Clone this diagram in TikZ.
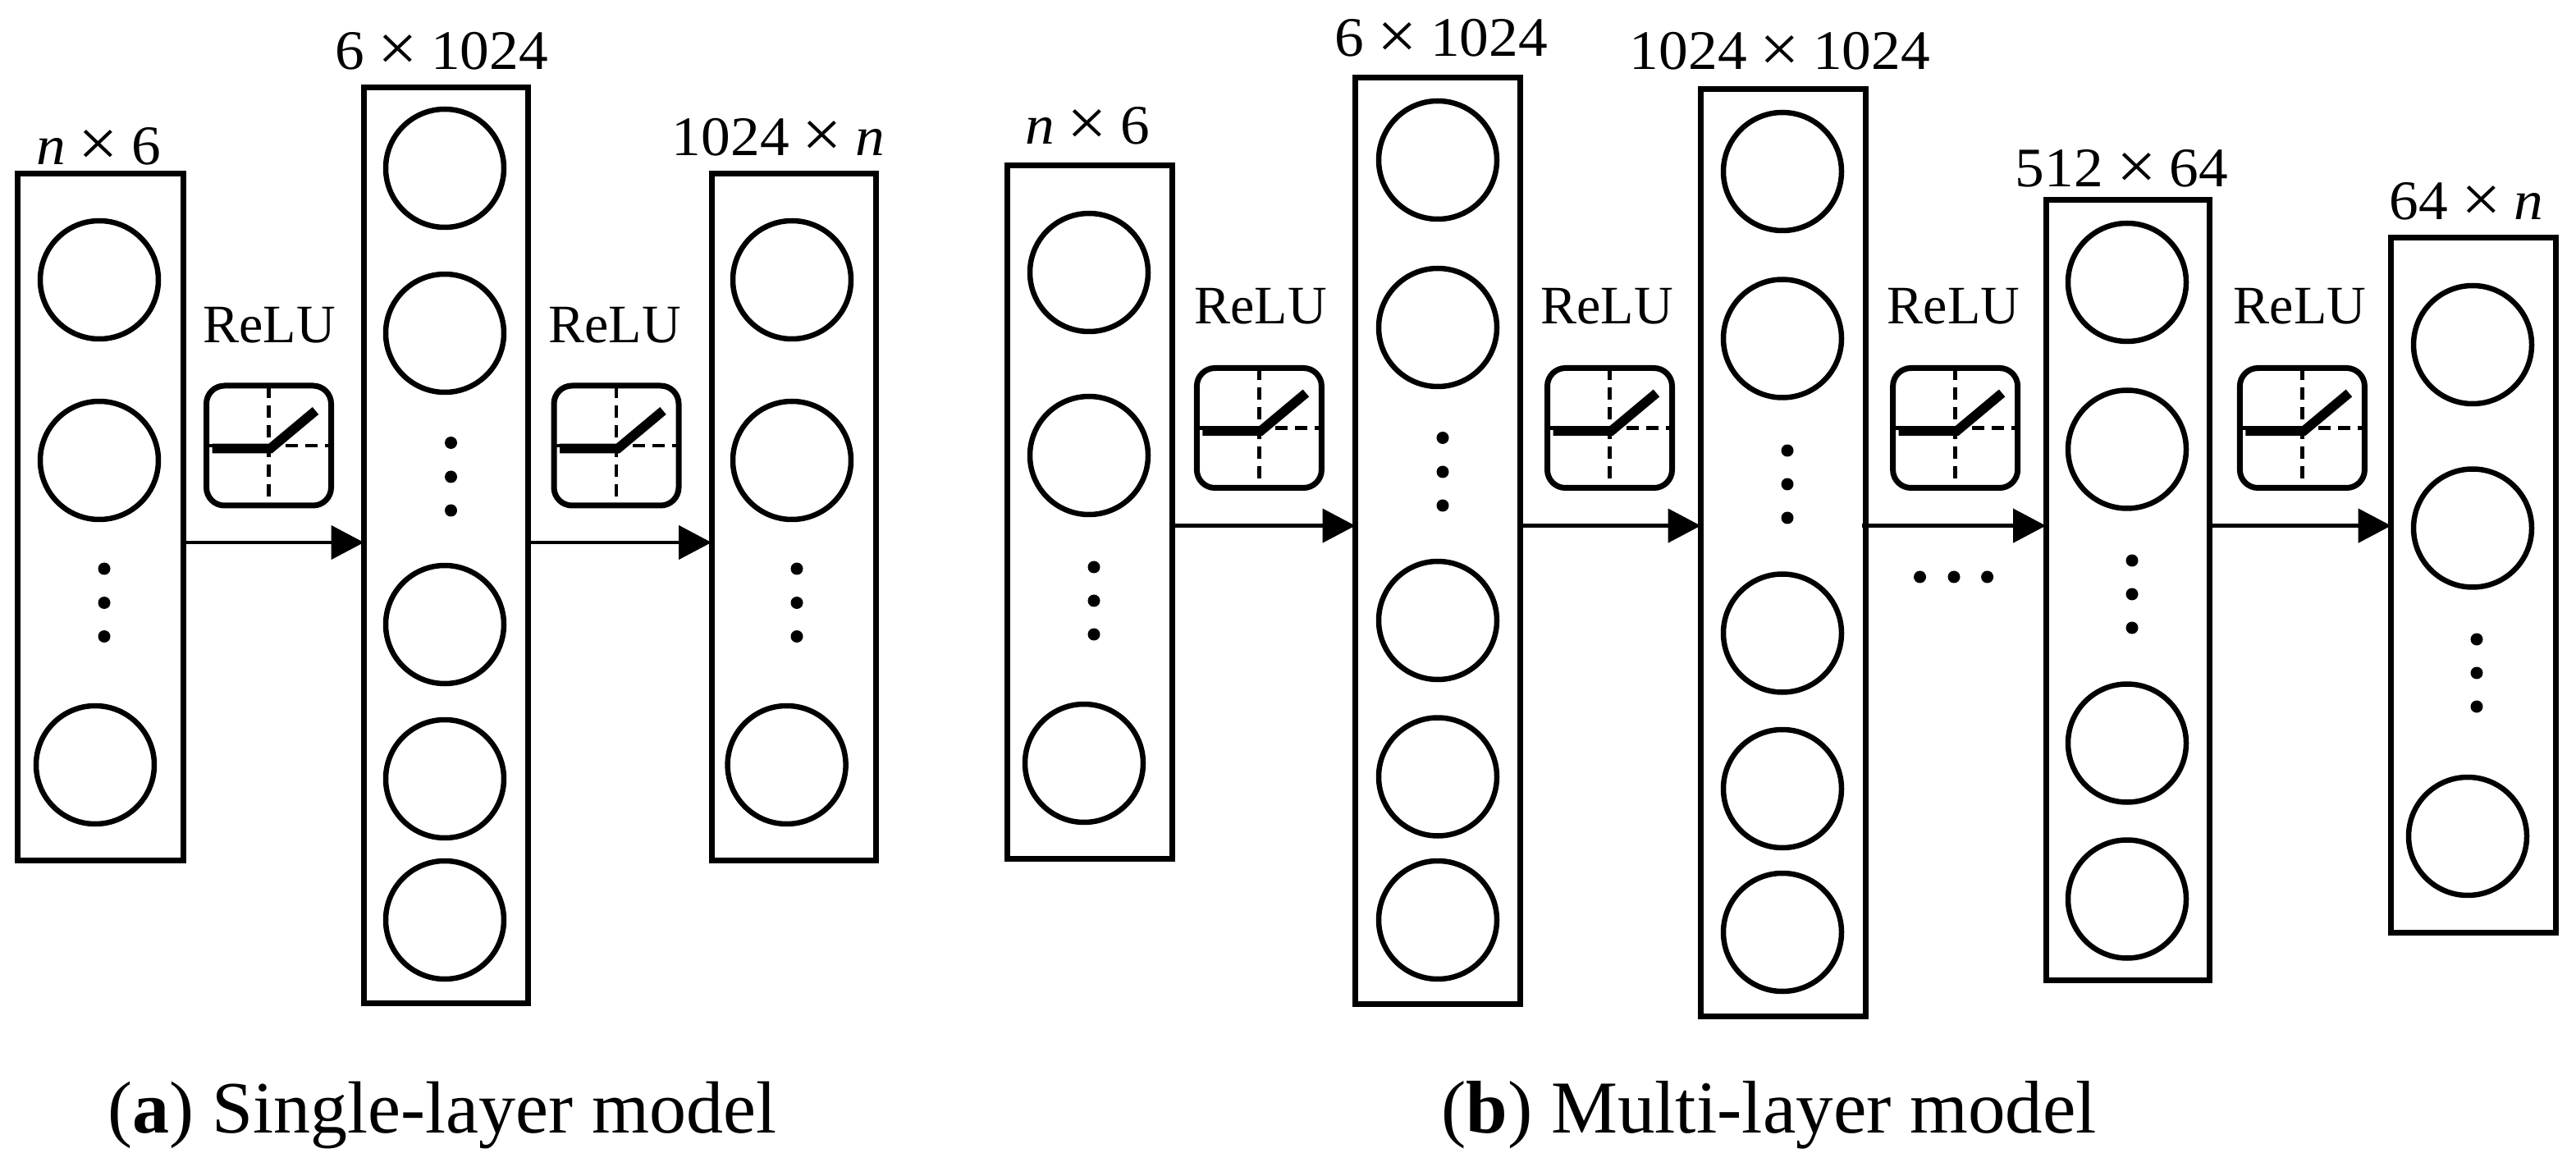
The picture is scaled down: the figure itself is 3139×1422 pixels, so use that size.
\documentclass[tikz,border=0pt]{standalone}
\usepackage{fontspec}
\setmainfont{Liberation Serif}
\newfontfamily\dimfont[FakeStretch=1.05]{Liberation Serif}
\usetikzlibrary{arrows.meta}
\newcommand{\bigtimes}{\raisebox{-1.2pt}{\fontsize{41}{40}\selectfont ×}}
\tikzset{
  layer/.style={draw=black,line width=3.5pt,rectangle,inner sep=0pt,outer sep=0pt,fill=white},
  neuron/.style={draw=black,line width=3.25pt,circle,minimum size=72pt,inner sep=0pt,outer sep=0pt},
  dotmark/.style={fill=black,circle,minimum size=7.5pt,inner sep=0pt,outer sep=0pt},
  conn/.style={line width=2.3pt,-{Triangle[length=20pt,width=20.5pt]}},
  iconbox/.style={draw=black,line width=3.5pt,rectangle,rounded corners=11pt,minimum width=76pt,minimum height=73pt,inner sep=0pt,outer sep=0pt},
  axisline/.style={line width=2.2pt,dash pattern=on 7.5pt off 4.5pt},
  ramp/.style={line width=5.8pt,line join=miter},
  relutext/.style={font=\fontsize{33}{40}\selectfont,anchor=base,inner sep=0pt},
  dimtext/.style={font=\dimfont\fontsize{34}{40}\selectfont,anchor=base,inner sep=0pt},
  captext/.style={font=\fontsize{45}{50}\selectfont,anchor=base west,inner sep=0pt},
  captextb/.style={font=\fontsize{45.5}{50}\selectfont,anchor=base west,inner sep=0pt},
}
\newcommand{\layerbox}[5]{\node[layer,minimum width={(#4-#2)*0.5pt},minimum height={(#5-#3)*0.5pt}] (#1) at ({(#2+#4)/2},{(#3+#5)/2}) {};}
\newcommand{\neu}[3]{\node[neuron] (#1) at (#2,#3) {};}
\newcommand{\dotm}[3]{\node[dotmark] (#1) at (#2,#3) {};}
\newcommand{\vdotsat}[5]{\dotm{#1a}{#2}{#3}\dotm{#1b}{#2}{#4}\dotm{#1c}{#2}{#5}}
% name, vertical-axis x, horizontal-axis y
\newcommand{\reluicon}[3]{%
  \node[iconbox] (#1) at (#2,#3) {};
  \draw[axisline] (#1.north) -- (#1.south);
  \draw[axisline] (#1.west) -- (#1.east);
  \draw[ramp] ({#2-69},{#3+3.5}) -- ({#2+2},{#3+3.5}) -- ({#2+57},{#3-42.5});
}
\begin{document}
\begin{tikzpicture}[x=0.5pt,y=-0.5pt]
\useasboundingbox (0,0) rectangle (3139,1422);
\fill[white] (0,0) rectangle (3139,1422);
\coordinate (rowa) at (0,661);
\coordinate (rowb) at (0,640.6);

% ---------- panel a
\layerbox{a1}{21}{212}{223}{1048}
\layerbox{a2}{443.5}{107}{643.5}{1222}
\layerbox{a3}{867}{212}{1067}{1048}

\neu{a1n1}{121}{341}\neu{a1n2}{121}{561}\neu{a1n3}{116}{932}
\vdotsat{a1d}{127}{693}{734.5}{775.5}
\neu{a2n1}{542}{205}\neu{a2n2}{542}{406}\neu{a2n3}{542}{761}\neu{a2n4}{542}{949}\neu{a2n5}{542}{1121}
\vdotsat{a2d}{549.5}{539.5}{581}{622}
\neu{a3n1}{965}{341}\neu{a3n2}{965}{561}\neu{a3n3}{958.6}{932}
\vdotsat{a3d}{971}{693}{734.5}{775.5}

\reluicon{ai1}{327.5}{543}
\reluicon{ai2}{751}{543}
\node[relutext] (art1) at (328,418) {ReLU};
\node[relutext] (art2) at (749,418) {ReLU};

\draw[conn] (a1.east |- rowa) -- (a2.west |- rowa);
\draw[conn] (a2.east |- rowa) -- (a3.west |- rowa);

\node[dimtext] (al1) at (120,200.6) {\textit{n}\kern 8pt\bigtimes\kern 8pt6};
\node[dimtext] (al2) at (538.5,84.5) {6\kern 8pt\bigtimes\kern 8pt1024};
\node[dimtext] (al3) at (948.5,189.6) {1024\kern 8pt\bigtimes\kern 8pt\textit{n}};

\node[captext] (capa) at (131,1380) {(\textbf{a}) Single-layer model};

% ---------- panel b
\layerbox{b1}{1227.5}{202}{1428}{1046.7}
\layerbox{b2}{1651.5}{95}{1852}{1223.5}
\layerbox{b3}{2072.5}{109}{2273.7}{1238.7}
\layerbox{b4}{2493}{244}{2692.6}{1194}
\layerbox{b5}{2913.7}{290}{3114}{1136}

\neu{b1n1}{1327}{332}\neu{b1n2}{1327}{555}\neu{b1n3}{1321}{930}
\vdotsat{b1d}{1333}{691}{732}{773}
\neu{b2n1}{1752}{195}\neu{b2n2}{1752}{399}\neu{b2n3}{1752}{756}\neu{b2n4}{1752}{946.5}\neu{b2n5}{1752}{1121}
\vdotsat{b2d}{1758}{533.5}{575}{616}
\neu{b3n1}{2172}{209}\neu{b3n2}{2172}{412.5}\neu{b3n3}{2172}{771.5}\neu{b3n4}{2172}{961}\neu{b3n5}{2172}{1136}
\vdotsat{b3d}{2178}{549}{590}{631}
\neu{b4n1}{2592}{344}\neu{b4n2}{2592}{547.5}\neu{b4n3}{2592}{905.5}\neu{b4n4}{2592}{1095.5}
\vdotsat{b4d}{2598}{683}{724}{765}
\neu{b5n1}{3013}{420}\neu{b5n2}{3013}{643.5}\neu{b5n3}{3007}{1019}
\vdotsat{b5d}{3018}{779}{820}{861}

\reluicon{bi1}{1534.4}{521.5}
\reluicon{bi2}{1961.5}{521.5}
\reluicon{bi3}{2382.6}{521.5}
\reluicon{bi4}{2805.4}{521.5}
\node[relutext] (brt1) at (1536,395) {ReLU};
\node[relutext] (brt2) at (1958,395) {ReLU};
\node[relutext] (brt3) at (2380.5,395) {ReLU};
\node[relutext] (brt4) at (2802.5,395) {ReLU};

\draw[conn] (b1.east |- rowb) -- (b2.west |- rowb);
\draw[conn] (b2.east |- rowb) -- (b3.west |- rowb);
\draw[conn,shorten <=-2.5pt] (b3.east |- rowb) -- (b4.west |- rowb);
\draw[conn] (b4.east |- rowb) -- (b5.west |- rowb);

\dotm{bh1}{2339.5}{703}\dotm{bh2}{2381}{703}\dotm{bh3}{2421.6}{703}

\node[dimtext] (bl1) at (1325,175.4) {\textit{n}\kern 8pt\bigtimes\kern 8pt6};
\node[dimtext] (bl2) at (1756.5,69) {6\kern 8pt\bigtimes\kern 8pt1024};
\node[dimtext] (bl3) at (2169,85) {1024\kern 8pt\bigtimes\kern 8pt1024};
\node[dimtext] (bl4) at (2585.5,228) {512\kern 8pt\bigtimes\kern 8pt64};
\node[dimtext] (bl5) at (3005.5,268) {64\kern 8pt\bigtimes\kern 8pt\textit{n}};

\node[captextb] (capb) at (1756,1380.5) {(\textbf{b}) Multi-layer model};
\end{tikzpicture}
\end{document}
